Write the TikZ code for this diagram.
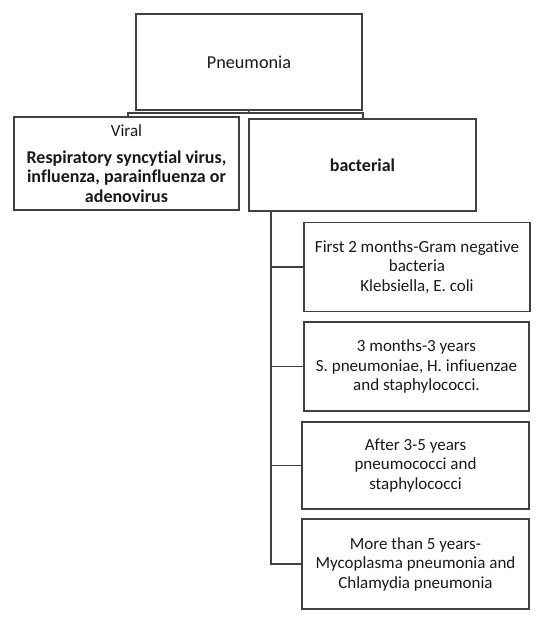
\documentclass[tikz,border=0pt]{standalone}
\usepackage{fontspec}
\setmainfont{Carlito}[Ligatures=NoCommon]
\begin{document}
\begin{tikzpicture}[x=1pt,y=-1pt,
  box/.style={draw=black!75,line width=1.2pt,rectangle,inner sep=0pt,align=center,text=black!90,font=\fontsize{17}{19.5}\selectfont},
  link/.style={draw=black!75,line width=1.2pt}]
\useasboundingbox (0,0) rectangle (557,621);
\node[box,minimum width=226pt,minimum height=96pt] (pn) at (249,62) {\fontsize{18.2}{19.5}\selectfont Pneumonia};
\node[box,minimum width=225pt,minimum height=93pt] (vir) at (126.5,163.5) {Viral\\[7pt]{\fontsize{18}{19.5}\selectfont\bfseries Respiratory syncytial virus,}\\{\fontsize{18}{19.5}\selectfont\bfseries influenza, parainfluenza or}\\{\fontsize{18}{19.5}\selectfont\bfseries adenovirus}};
\node[box,minimum width=227pt,minimum height=92pt] (bac) at (362.5,165) {\fontsize{18}{19.5}\selectfont\bfseries bacterial};
\node[box,minimum width=226pt,minimum height=89pt] (c1) at (417,267) {First 2 months-Gram negative\\bacteria\\Klebsiella, E. coli};
\node[box,minimum width=225pt,minimum height=89pt] (c2) at (416.5,366.5) {3 months-3 years\\S. pneumoniae, H. infiuenzae\\and staphylococci.};
\node[box,minimum width=227pt,minimum height=87pt] (c3) at (415.5,465.5) {After 3-5 years\\pneumococci and\\staphylococci};
\node[box,minimum width=227pt,minimum height=90pt] (c4) at (415.5,564) {More than 5 years-\\Mycoplasma pneumonia and\\Chlamydia pneumonia};
\coordinate (hub) at (248,113);
\draw[link] (pn.south) -- (hub);
\draw[link] (hub) -| (128,0 |- vir.north);
\draw[link] (hub) -| (363,0 |- bac.north);
\coordinate (t0) at (271,211);
\draw[link] (t0) |- (c1.west);
\draw[link] (t0) |- (c2.west);
\draw[link] (t0) |- (c3.west);
\draw[link] (t0) |- (c4.west);
\end{tikzpicture}
\end{document}
